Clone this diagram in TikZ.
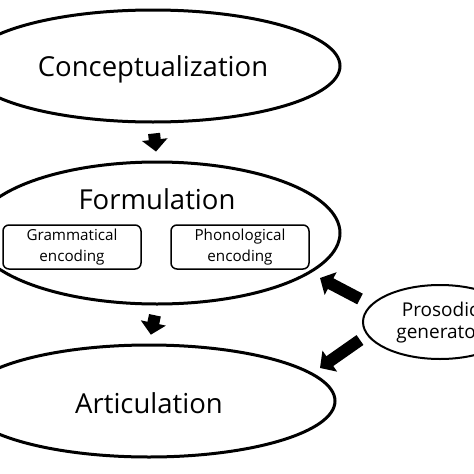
\documentclass[tikz,border=0pt]{standalone}
\usepackage{fontspec}
\setmainfont{Open Sans}
\usetikzlibrary{shapes.geometric,arrows.meta}
\tikzset{
  ell/.style={ellipse, draw, line width=3pt, inner sep=0pt},
  bigtxt/.style={font=\fontsize{27.5}{32}\selectfont, inner sep=0pt},
  encbox/.style={draw, rounded corners=6pt, line width=1.5pt, minimum width=138pt, minimum height=44pt, align=center, font=\fontsize{15.2}{20.5}\selectfont, inner sep=0pt},
  blockarrow/.style={line width=12pt, -{Triangle[width=25pt,length=12pt]}},
}
\begin{document}
\begin{tikzpicture}[x=1pt,y=-1pt]
\useasboundingbox (0,0) rectangle (474,474);
\clip (0,0) rectangle (474,474);
\fill[white] (0,0) rectangle (474,474);
% Conceptualization
\node[ell, minimum width=374pt, minimum height=112pt] (concept) at (153,66) {};
\node[bigtxt] (concepttxt) at (153,69) {Conceptualization};
% Formulation
\node[ell, minimum width=366pt, minimum height=142pt] (form) at (157,233) {};
\node[bigtxt] (formtxt) at (157,199) {Formulation};
\node[encbox] (gram) at (72,247) {Grammatical\\encoding};
\node[encbox] (phon) at (240,247) {Phonological\\encoding};
% Articulation
\node[ell, minimum width=372pt, minimum height=112pt] (artic) at (149,401) {};
\node[bigtxt] (artictxt) at (149,403) {Articulation};
% Prosodic generator
\node[ellipse, draw, line width=2pt, minimum width=154pt, minimum height=74pt, inner sep=0pt] (pros) at (440,322) {};
\node[align=center, font=\fontsize{19}{22}\selectfont, inner sep=0pt] (prostxt) at (440,323) {Prosodic\\generator};
% arrows
\draw[blockarrow, shorten <=10pt, shorten >=9pt] (concept.south) -- (form.north);
\draw[blockarrow, shorten <=10pt, shorten >=9pt] (form.south) -- (artic.north);
\coordinate (a1s) at (360,299);
\coordinate (a1e) at (320,278);
\coordinate (a2s) at (360,340);
\coordinate (a2e) at (320,368);
\draw[blockarrow] (a1s) -- (a1e);
\draw[blockarrow] (a2s) -- (a2e);
\end{tikzpicture}
\end{document}
